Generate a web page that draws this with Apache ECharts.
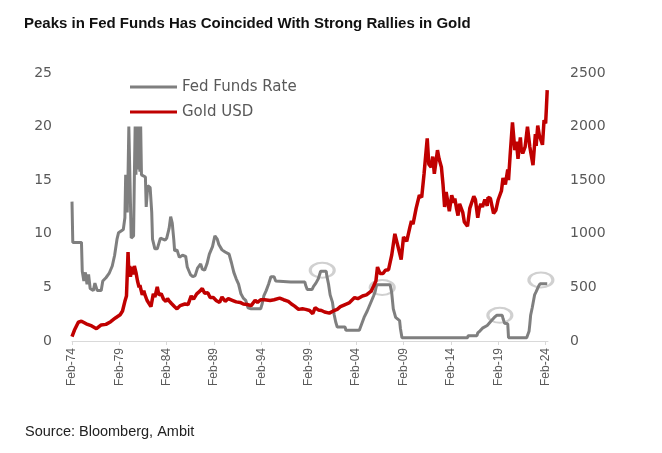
<!DOCTYPE html>
<html>
<head>
<meta charset="utf-8">
<script src="https://cdn.jsdelivr.net/npm/echarts@6/dist/echarts.min.js"></script>
<style>
html,body{margin:0;padding:0;background:#fff;}
#chart{width:662px;height:453px;}
</style>
</head>
<body>
<div id="chart"></div>
<script>
// tick labels on the time axis, one every 5 years
var xTickLabels = ['Feb-74','Feb-79','Feb-84','Feb-89','Feb-94','Feb-99','Feb-04','Feb-09','Feb-14','Feb-19','Feb-24'];

// Fed funds rate (%)
var fedFunds = [
  ['1974-02',13.0],['1974-03',9.2],['1975-02',9.2],['1975-03',6.5],['1975-05',5.6],['1975-07',6.4],
  ['1975-09',5.3],['1975-11',6.2],['1976-01',4.9],['1976-05',4.7],['1976-07',5.4],['1976-10',4.7],
  ['1977-03',4.7],['1977-05',5.6],['1977-09',5.9],['1978-01',6.3],['1978-05',7.0],['1978-08',8.0],
  ['1978-11',9.5],['1979-01',10.1],['1979-07',10.4],['1979-09',11.5],['1979-10',15.5],['1979-12',12.0],
  ['1980-01',15.5],['1980-02',20.0],['1980-04',20.0],['1980-05',9.6],['1980-08',9.8],['1980-09',15.3],
  ['1980-10',20.0],['1980-11',15.5],['1980-12',20.0],['1981-01',16.0],['1981-03',20.0],['1981-04',15.8],
  ['1981-05',20.0],['1981-06',15.5],['1981-11',15.3],['1981-12',12.5],['1982-02',14.5],['1982-05',14.3],
  ['1982-07',12.0],['1982-08',9.5],['1982-10',9.5],['1982-11',8.6],['1983-02',8.6],['1983-06',9.6],
  ['1983-12',9.4],['1984-02',9.6],['1984-05',10.5],['1984-07',11.6],['1984-09',11.0],['1984-11',9.4],
  ['1984-12',8.4],['1985-03',8.5],['1985-06',7.8],['1985-10',8.0],['1986-02',7.9],['1986-04',6.9],
  ['1986-08',6.2],['1986-11',6.0],['1987-02',6.1],['1987-05',6.8],['1987-09',7.2],['1987-11',6.7],
  ['1988-02',6.6],['1988-05',7.2],['1988-08',8.1],['1988-12',8.8],['1989-03',9.8],['1989-06',9.5],
  ['1989-08',9.0],['1989-12',8.5],['1990-04',8.3],['1990-09',8.1],['1990-12',7.3],['1991-03',6.4],
  ['1991-06',5.8],['1991-09',5.3],['1991-12',4.4],['1992-03',4.0],['1992-06',3.8],['1992-09',3.1],
  ['1993-01',3.0],['1994-01',3.0],['1994-03',3.5],['1994-05',4.2],['1994-08',4.7],['1994-11',5.3],
  ['1995-02',6.0],['1995-06',6.0],['1995-08',5.6],['1997-03',5.5],['1998-09',5.5],['1998-10',5.2],
  ['1998-12',4.8],['1999-06',4.8],['1999-08',5.1],['1999-11',5.4],['2000-02',5.8],['2000-05',6.5],
  ['2000-12',6.5],['2001-01',6.0],['2001-03',5.3],['2001-05',4.3],['2001-08',3.6],['2001-10',2.5],
  ['2001-12',1.8],['2002-01',1.8],['2002-02',1.3],['2002-12',1.3],['2003-01',1.0],['2004-06',1.0],
  ['2004-08',1.4],['2004-12',2.2],['2005-04',2.8],['2005-08',3.5],['2005-12',4.2],['2006-02',4.6],
  ['2006-04',5.25],['2007-09',5.25],['2007-11',4.5],['2008-01',3.0],['2008-04',2.2],['2008-09',1.9],
  ['2008-10',1.2],['2008-12',0.3],['2015-11',0.3],['2015-12',0.5],['2016-11',0.5],['2016-12',0.75],
  ['2017-03',0.95],['2017-06',1.2],['2017-12',1.45],['2018-03',1.7],['2018-06',1.95],['2018-09',2.2],
  ['2018-12',2.4],['2019-07',2.4],['2019-08',2.1],['2019-10',1.65],['2020-02',1.6],['2020-03',0.3],
  ['2022-02',0.3],['2022-03',0.4],['2022-05',0.9],['2022-06',1.6],['2022-07',2.4],['2022-09',3.1],
  ['2022-11',3.9],['2022-12',4.3],['2023-02',4.6],['2023-05',5.1],['2023-07',5.35],['2024-04',5.35]
];

// Gold price (USD / oz)
var goldUsd = [
  ['1974-02',40],['1974-05',100],['1974-10',175],['1975-02',185],['1975-08',160],['1976-03',140],
  ['1976-09',115],['1977-03',150],['1977-09',155],['1978-03',180],['1978-09',215],['1979-03',245],
  ['1979-06',280],['1979-09',370],['1979-11',420],['1980-01',830],['1980-02',640],['1980-03',700],
  ['1980-04',600],['1980-06',690],['1980-07',620],['1980-08',660],['1980-09',700],['1980-11',640],
  ['1981-01',560],['1981-03',500],['1981-04',520],['1981-07',430],['1981-09',470],['1981-10',440],
  ['1982-01',380],['1982-06',320],['1982-09',440],['1982-11',410],['1983-02',505],['1983-04',430],
  ['1983-07',440],['1983-10',390],['1984-01',370],['1984-03',395],['1984-05',375],['1984-08',350],
  ['1984-12',320],['1985-03',300],['1985-07',330],['1986-01',345],['1986-05',340],['1986-09',420],
  ['1986-12',390],['1987-04',440],['1987-08',465],['1987-11',490],['1988-02',445],['1988-06',450],
  ['1988-09',405],['1989-01',405],['1989-05',375],['1989-09',360],['1989-12',410],['1990-04',370],
  ['1990-08',395],['1991-01',380],['1991-06',365],['1991-11',360],['1992-03',345],['1992-08',340],
  ['1993-01',330],['1993-06',380],['1993-09',360],['1994-01',385],['1994-06',385],['1995-01',378],
  ['1995-06',385],['1996-01',400],['1996-06',385],['1996-12',370],['1997-04',345],['1997-08',325],
  ['1998-01',295],['1998-06',300],['1998-10',295],['1999-03',285],['1999-07',255],['1999-10',310],
  ['2000-02',290],['2000-06',285],['2000-10',270],['2001-04',260],['2001-09',280],['2002-02',295],
  ['2002-06',320],['2002-12',340],['2003-05',355],['2003-12',405],['2004-04',395],['2004-10',420],
  ['2005-03',430],['2005-09',465],['2005-12',510],['2006-03',560],['2006-05',690],['2006-08',630],
  ['2006-12',630],['2007-03',660],['2007-07',665],['2007-11',800],['2008-03',1000],['2008-06',910],
  ['2008-11',760],['2009-02',970],['2009-06',930],['2009-10',1060],['2009-12',1120],['2010-02',1090],
  ['2010-06',1240],['2010-10',1360],['2011-01',1340],['2011-04',1560],['2011-08',1890],['2011-10',1650],
  ['2012-01',1620],['2012-03',1720],['2012-05',1560],['2012-09',1780],['2012-11',1700],['2013-02',1620],
  ['2013-04',1460],['2013-06',1250],['2013-08',1390],['2013-12',1210],['2014-03',1360],['2014-06',1290],
  ['2014-07',1330],['2014-09',1240],['2014-11',1170],['2015-01',1280],['2015-05',1200],['2015-07',1110],
  ['2015-11',1070],['2016-02',1240],['2016-07',1350],['2016-09',1320],['2016-12',1150],['2017-02',1240],
  ['2017-04',1280],['2017-06',1250],['2017-09',1320],['2017-12',1260],['2018-01',1340],['2018-04',1330],
  ['2018-08',1190],['2018-11',1220],['2019-02',1320],['2019-06',1400],['2019-08',1520],['2019-11',1460],
  ['2020-02',1600],['2020-03',1500],['2020-05',1730],['2020-08',2040],['2020-11',1780],['2021-01',1860],
  ['2021-03',1700],['2021-06',1900],['2021-07',1800],['2021-09',1750],['2021-12',1810],['2022-03',2000],
  ['2022-06',1810],['2022-10',1640],['2023-01',1930],['2023-02',1820],['2023-04',2010],['2023-06',1920],
  ['2023-10',1830],['2023-12',2060],['2024-02',2030],['2024-03',2180],['2024-04',2340]
];

// grey rings drawn around the rate peaks
var peakRings = [['2000-07',6.6],['2006-11',5.0],['2019-04',2.4],['2023-08',5.7]];

// months since Feb-74
function toX(ym){
  var p = ym.split('-');
  return (parseInt(p[0],10) - 1974) * 12 + (parseInt(p[1],10) - 2);
}
function pts(arr){
  return arr.map(function(d){ return [toX(d[0]), d[1]]; });
}

var chart = echarts.init(document.getElementById('chart'));
var tickPos = xTickLabels.map(function(l, i){ return i * 60; });

var option = {
  animation: false,
  title: [
    {
      text: 'Peaks in Fed Funds Has Coincided With Strong Rallies in Gold',
      left: 24, top: 16, padding: 0,
      textStyle: {fontFamily: 'Liberation Sans', fontWeight: 'bold', fontSize: 15, color: '#111'}
    },
    {
      text: 'Source: Bloomberg, Ambit',
      left: 25, top: 424, padding: 0,
      textStyle: {fontFamily: 'Liberation Sans', fontWeight: 'normal', fontSize: 14.5, color: '#222'}
    }
  ],
  legend: {
    data: ['Fed Funds Rate', 'Gold USD'],
    orient: 'vertical',
    left: 125, top: 74,
    icon: 'rect',
    itemWidth: 47, itemHeight: 3,
    itemGap: 9,
    textStyle: {fontFamily: 'DejaVu Sans', fontSize: 15, color: '#595959', lineHeight: 16}
  },
  grid: {left: 72, right: 114, top: 73, bottom: 112},
  xAxis: {
    type: 'value',
    min: 0, max: 603,
    axisLine: {lineStyle: {color: '#d9d9d9', width: 1}},
    axisTick: {show: true, customValues: tickPos, length: 4, lineStyle: {color: '#d9d9d9'}},
    axisLabel: {
      customValues: tickPos,
      rotate: 90,
      margin: 7,
      fontFamily: 'Liberation Sans',
      fontSize: 12,
      color: '#595959',
      formatter: function(v){ return xTickLabels[Math.round(v / 60)] || ''; }
    },
    splitLine: {show: false}
  },
  yAxis: [
    {
      type: 'value', min: 0, max: 25, interval: 5,
      axisLine: {show: false}, axisTick: {show: false}, splitLine: {show: false},
      axisLabel: {margin: 20, fontFamily: 'DejaVu Sans', fontSize: 14, color: '#595959'}
    },
    {
      type: 'value', min: 0, max: 2500, interval: 500,
      axisLine: {show: false}, axisTick: {show: false}, splitLine: {show: false},
      axisLabel: {
        margin: 22, fontFamily: 'DejaVu Sans', fontSize: 14, color: '#595959',
        formatter: function(v){ return String(v); }
      }
    }
  ],
  series: [
    {
      name: 'Fed Funds Rate', type: 'line', yAxisIndex: 0,
      data: pts(fedFunds), symbol: 'none',
      lineStyle: {color: '#7f7f7f', width: 3}, itemStyle: {color: '#7f7f7f'}
    },
    {
      name: 'Gold USD', type: 'line', yAxisIndex: 1,
      data: pts(goldUsd), symbol: 'none',
      lineStyle: {color: '#c00000', width: 3.5}, itemStyle: {color: '#c00000'}
    },
    {
      name: 'peaks', type: 'scatter', yAxisIndex: 0,
      data: pts(peakRings), symbol: 'circle', symbolSize: [24, 15],
      itemStyle: {color: 'rgba(0,0,0,0)', borderColor: '#c4c4c4', borderWidth: 2.5},
      silent: true
    }
  ]
};
chart.setOption(option);
</script>
</body>
</html>
